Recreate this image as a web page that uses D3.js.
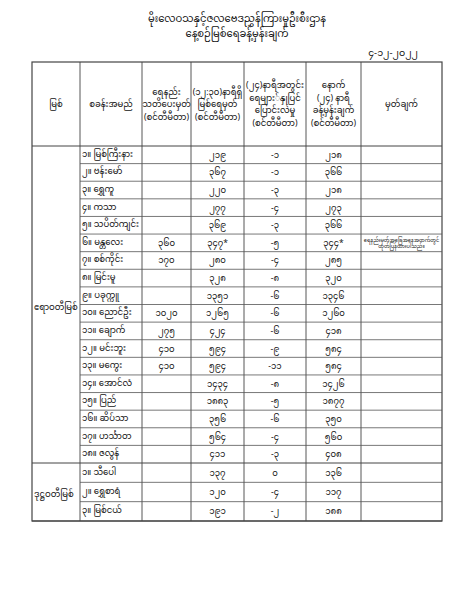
<!DOCTYPE html>
<html><head><meta charset="utf-8">
<script src="https://cdn.jsdelivr.net/npm/d3@7"></script>
<style>body{margin:0;background:#fff}text{font-family:"Noto Sans Myanmar","Padauk","Noto Sans",sans-serif;fill:#111}</style>
</head><body>
<script>
const titleLines=["မိုးလေဝသနှင့်ဇလဗေဒညွှန်ကြားမှုဦးစီးဌာန","နေ့စဉ်မြစ်ရေခန့်မှန်းချက်"];
const dateText="၄-၁၂-၂၀၂၂";
const headers=[["မြစ်"],["စခန်းအမည်"],["ရေနည်း","သတိပေးမှတ်","(စင်တီမီတာ)"],["(၁၂:၃၀)နာရီရှိ","မြစ်ရေမှတ်","(စင်တီမီတာ)"],["(၂၄)နာရီအတွင်း","ရေများ်နှုပြင်","ပြောင်းလဲမှု","(စင်တီမီတာ)"],["နောက်","(၂၄) နာရီ","ခန့်မှန်းချက်","(စင်တီမီတာ)"],["မှတ်ချက်"]];
const rivers=["ဧရာဝတီမြစ်","ဒုဋ္ဌဝတီမြစ်"];
const stations1=["၁။ မြစ်ကြီးနား","၂။ ဗန်းမော်","၃။ ရွှေကူ","၄။ ကသာ","၅။ သပိတ်ကျင်း","၆။ မန္တလေး","၇။ စစ်ကိုင်း","၈။ မြင်းမူ","၉။ ပခုက္ကူ","၁၀။ ညောင်ဦး","၁၁။ ချောက်","၁၂။ မင်းဘူး","၁၃။ မကွေး","၁၄။ အောင်လံ","၁၅။ ပြည်","၁၆။ ဆိပ်သာ","၁၇။ ဟင်္သာတ","၁၈။ ဇလွန်"];
const lowMark1=["","","","","","၃၆၀","၁၇၀","","","၁၀၂၀","၂၇၅","၄၁၀","၄၁၀","","","","",""];
const level1=["၂၁၉","၃၆၇","၂၂၀","၂၇၇","၃၆၉","၃၄၇*","၂၈၀","၃၂၈","၁၃၅၁","၁၂၆၅","၄၂၄","၅၉၄","၅၉၄","၁၄၃၄","၁၈၈၃","၃၅၆","၅၆၄","၄၁၁"];
const change1=["-၁","-၁","-၃","-၄","-၃","-၅","-၄","-၈","-၆","-၆","-၆","-၉","-၁၁","-၈","-၅","-၆","-၄","-၃"];
const forecast1=["၂၁၈","၃၆၆","၂၁၈","၂၇၃","၃၆၆","၃၄၄*","၂၈၅","၃၂၀","၁၃၄၆","၁၂၆၀","၄၁၈","၅၈၄","၅၈၄","၁၄၂၆","၁၈၇၇","၃၅၀","၅၆၀","၄၀၈"];
const remarks1=["","","","","",["ရေနည်းမှတ်အခြေအနေအထက်တွင်","ထုတ်ပြန်ထားပါသည်။"],"","","","","","","","","","","",""];
const stations2=["၁။ သီပေါ","၂။ ရွှေစာရံ","၃။ မြစ်ငယ်"];
const lowMark2=["","",""];
const level2=["၁၃၇","၁၂၀","၁၉၁"];
const change2=["၀","-၄","-၂"];
const forecast2=["၁၃၆","၁၁၇","၁၈၈"];
const remarks2=["","",""];

const W=474,H=613;
const svg=d3.select("body").append("svg").attr("width",W).attr("height",H);
const colX=[32,80,142,191,244,306,361,442];
const tableTop=62,headBot=146,g1Bot=463,g2Bot=521;
svg.selectAll(".t").data(titleLines).join("text").attr("x",237).attr("y",(d,i)=>22+i*15)
  .attr("text-anchor","middle").attr("font-size",10).text(d=>d);
svg.append("text").attr("x",418).attr("y",56).attr("text-anchor","end").attr("font-size",9.5).text(dateText);

headers.forEach((h,i)=>{
  const cx=(colX[i]+colX[i+1])/2, lh=12.5, y0=(tableTop+headBot)/2-(h.length-1)*lh/2+3;
  h.forEach((s,j)=>svg.append("text").attr("x",cx).attr("y",y0+j*lh).attr("text-anchor","middle").attr("font-size",8.5).text(s));
});
function group(stations,low,lev,chg,fc,rem,y0,y1,river){
  const y=d3.scaleBand().domain(d3.range(stations.length)).range([y0,y1]);
  const rows=stations.map((s,i)=>({s,l:low[i],v:lev[i],c:chg[i],f:fc[i],r:rem[i],i}));
  const g=svg.append("g");
  g.selectAll("line.r").data(rows.slice(1)).join("line").attr("x1",colX[1]).attr("x2",colX[7])
    .attr("y1",d=>y(d.i)).attr("y2",d=>y(d.i)).attr("stroke","#555").attr("stroke-width",0.8);
  const bw=y.bandwidth();
  rows.forEach(d=>{
    const cy=y(d.i)+bw/2+3;
    g.append("text").attr("x",colX[1]+2).attr("y",cy-1).attr("font-size",8.5).text(d.s);
    [[d.l,2],[d.v,3],[d.c,4],[d.f,5]].forEach(([t,c])=>g.append("text").attr("x",(colX[c]+colX[c+1])/2).attr("y",cy).attr("text-anchor","middle").attr("font-size",8.5).text(t));
    if(Array.isArray(d.r)) d.r.forEach((t,j)=>g.append("text").attr("x",(colX[6]+colX[7])/2).attr("y",cy-4+j*6).attr("text-anchor","middle").attr("font-size",5).text(t));
  });
  g.append("text").attr("x",colX[0]+2).attr("y",(y0+y1)/2+5).attr("font-size",8.5).text(river);
  svg.append("line").attr("x1",colX[0]).attr("x2",colX[7]).attr("y1",y1).attr("y2",y1).attr("stroke","#444").attr("stroke-width",1);
}
svg.append("rect").attr("x",colX[0]).attr("y",tableTop).attr("width",colX[7]-colX[0]).attr("height",g2Bot-tableTop).attr("fill","none").attr("stroke","#444").attr("stroke-width",1.2);
svg.append("line").attr("x1",colX[0]).attr("x2",colX[7]).attr("y1",headBot).attr("y2",headBot).attr("stroke","#444");
colX.slice(1,7).forEach(x=>svg.append("line").attr("x1",x).attr("x2",x).attr("y1",tableTop).attr("y2",g2Bot).attr("stroke","#444").attr("stroke-width",0.9));
group(stations1,lowMark1,level1,change1,forecast1,remarks1,headBot,g1Bot,rivers[0]);
group(stations2,lowMark2,level2,change2,forecast2,remarks2,g1Bot,g2Bot,rivers[1]);
</script></body></html>
